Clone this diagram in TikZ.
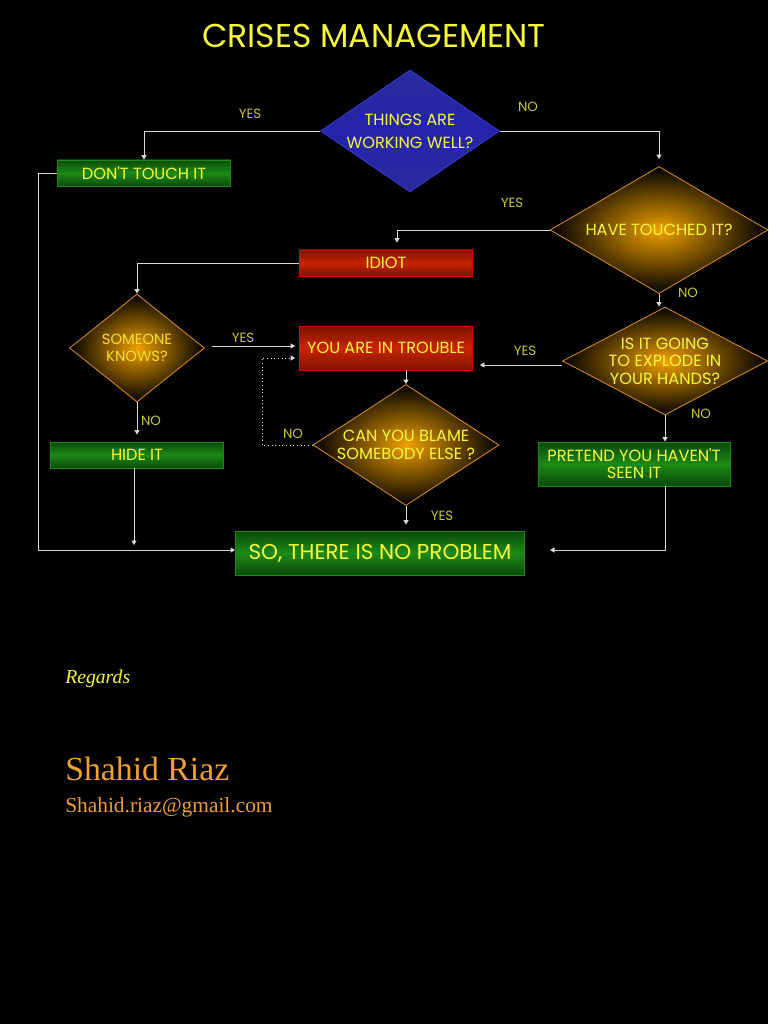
\documentclass[tikz,border=0pt]{standalone}
\usepackage{fontspec}
\setmainfont{Liberation Serif}
\newfontfamily\comicfont{Poppins}
\usetikzlibrary{arrows.meta,calc,positioning,shapes.geometric}
\definecolor{txtyellow}{HTML}{F8F83A}
\definecolor{lblolive}{HTML}{C8C838}
\definecolor{wiregray}{HTML}{D8D8D8}
\definecolor{amber}{HTML}{F0A000}
\definecolor{amberline}{HTML}{D88A20}
\definecolor{nightblue}{HTML}{2A2A9C}
\definecolor{blueline}{HTML}{3A3AD0}
\definecolor{boxgreen}{HTML}{0A4A0A}
\definecolor{boxgreenmid}{HTML}{1E8A16}
\definecolor{boxred}{HTML}{801200}
\definecolor{boxredmid}{HTML}{C82400}
\definecolor{signorange}{HTML}{F0A030}

\begin{document}
\begin{tikzpicture}[
  x=0.025cm, y=-0.025cm,
  decision/.style={diamond, draw=amberline, line width=0.6pt, inner sep=0pt, shading=radial, inner color=amber, outer color=black, text=txtyellow, align=center, font=\comicfont\fontsize{11.5}{12.4}\selectfont},
  greenbox/.style={draw=boxgreenmid, line width=0.6pt, align=center, inner sep=0pt, top color=boxgreen, bottom color=boxgreen, middle color=boxgreenmid, text=txtyellow, font=\comicfont\fontsize{11.5}{12.2}\selectfont},
  redbox/.style={draw=red!85!black, line width=0.6pt, align=center, inner sep=0pt, top color=boxred, bottom color=boxred, middle color=boxredmid, text=txtyellow, font=\comicfont\fontsize{11.5}{12.2}\selectfont},
  answer/.style={text=lblolive, inner sep=0pt, font=\comicfont\fontsize{9.5}{11}\selectfont},
  arrow/.style={draw=wiregray, line width=0.6pt, -{Triangle[length=3.2pt, width=3.6pt]}}
]
\fill[black] (0,0) rectangle (768,1024);

\node[text=txtyellow, font=\comicfont\fontsize{23.5}{28}\selectfont] (title) at (374,36) {CRISES MANAGEMENT};

% decisions
\node[decision, shading=axis, top color=nightblue, bottom color=nightblue, middle color=nightblue!85!blue, draw=blueline, aspect=1.47, minimum width=179*0.025cm, minimum height=122*0.025cm, font=\comicfont\fontsize{11.5}{16.3}\selectfont] (things) at (410,131) {THINGS ARE\\WORKING WELL?};
\node[decision, aspect=1.72, minimum width=218*0.025cm, minimum height=127*0.025cm] (touched) at (659,230) {HAVE TOUCHED IT?};
\node[decision, aspect=1.25, minimum width=135*0.025cm, minimum height=108*0.025cm, text=txtyellow!80!orange, font=\comicfont\fontsize{10.5}{12.2}\selectfont] (someone) at (137,348) {SOMEONE\\KNOWS?};
\node[decision, aspect=1.9, minimum width=205*0.025cm, minimum height=108*0.025cm] (explode) at (665,361) {IS IT GOING\\TO EXPLODE IN\\YOUR HANDS?};
\node[decision, aspect=1.54, minimum width=186*0.025cm, minimum height=121*0.025cm] (blame) at (406,445) {CAN YOU BLAME\\SOMEBODY ELSE ?};

% boxes
\node[greenbox, minimum width=173*0.025cm, minimum height=26*0.025cm] (donttouch) at (144,173) {DON'T TOUCH IT};
\node[redbox, minimum width=173*0.025cm, minimum height=26*0.025cm] (idiot) at (386,263) {IDIOT};
\node[redbox, minimum width=173*0.025cm, minimum height=44*0.025cm] (trouble) at (386,348) {YOU ARE IN TROUBLE};
\node[greenbox, minimum width=173*0.025cm, minimum height=26*0.025cm] (hide) at (137,455) {HIDE IT};
\node[greenbox, minimum width=192*0.025cm, minimum height=44*0.025cm] (pretend) at (634,464) {PRETEND YOU HAVEN'T\\SEEN IT};
\node[greenbox, minimum width=289*0.025cm, minimum height=44*0.025cm, font=\comicfont\fontsize{15.3}{17}\selectfont] (final) at (380,553) {SO, THERE IS NO PROBLEM};

% free ends
\coordinate (leftbend) at (38,550);
\coordinate (hideend) at (134,545);
\coordinate (rightend) at (550,550);
\coordinate (noloop) at (262,358);

% connectors
\draw[arrow] (things.west) -| (donttouch.north);
\draw[arrow] (things.east) -| ($(touched.north)+(0,-7)$);
\draw[arrow] (touched.west) -| ($(idiot.north)+(11,-7)$);
\draw[arrow] (touched.south) -- (touched.south |- explode.north);
\draw[arrow] (idiot.west) -| (someone.north);
\draw[arrow] ($(someone.east)+(7,-2)$) -- ($(someone.east -| trouble.west)+(-4,-2)$);
\draw[arrow] (someone.south) -- ($(someone.south |- hide.north)+(0,-7)$);
\draw[arrow] ($(explode.west)+(0,4)$) -- ($(explode.west -| trouble.east)+(7,4)$);
\draw[arrow] (explode.south) -- (explode.south |- pretend.north);
\draw[arrow] (trouble.south -| blame.north) -- (blame.north);
\draw[arrow, dotted] (blame.west) -| (noloop) -- ($(noloop -| trouble.west)+(-4,0)$);
\draw[arrow] (blame.south) -- ($(blame.south |- final.north)+(0,-6)$);
\draw[arrow] (donttouch.west) -| (leftbend) -- (leftbend -| final.west);
\draw[arrow] (hideend |- hide.south) -- (hideend);
\draw[arrow] (explode.south |- pretend.south) |- (rightend);

% answers
\node[answer] (yesdont) at (250,114) {YES};
\node[answer] (notouched) at (528,107) {NO};
\node[answer] (yesidiot) at (512,203) {YES};
\node[answer] (noexplode) at (688,293) {NO};
\node[answer] (yesknows) at (243,338) {YES};
\node[answer] (nohide) at (151,421) {NO};
\node[answer] (yestrouble) at (525,351) {YES};
\node[answer] (nopretend) at (701,414) {NO};
\node[answer] (noblame) at (293,434) {NO};
\node[answer] (yesfine) at (442,516) {YES};

% signature
\node[anchor=base west, inner sep=0pt, text=txtyellow, font=\itshape\fontsize{14}{16}\selectfont] (regards) at (65,683) {Regards};
\node[anchor=base west, inner sep=0pt, text=signorange, font=\fontsize{24}{28}\selectfont] (name) at (65,780) {Shahid Riaz};
\node[anchor=base west, inner sep=0pt, text=signorange, font=\fontsize{15.2}{17}\selectfont] (mail) at (65,812) {Shahid.riaz@gmail.com};
\end{tikzpicture}
\end{document}
